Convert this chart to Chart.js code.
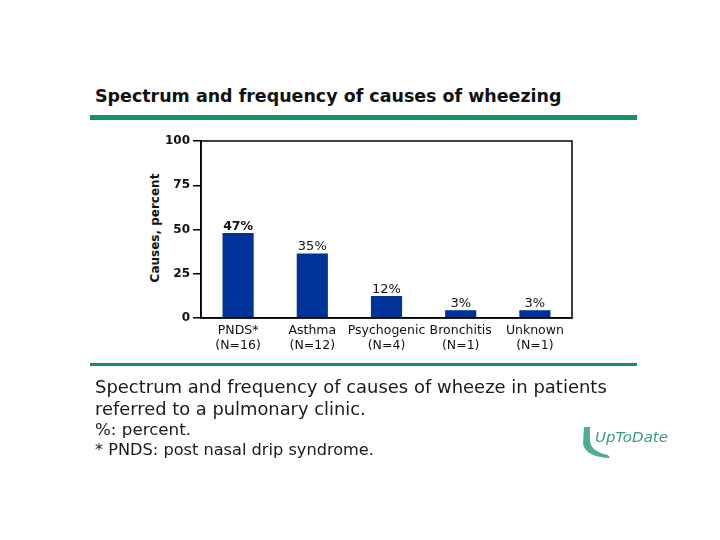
<!DOCTYPE html>
<html>
<head>
<meta charset="utf-8">
<script src="https://cdn.jsdelivr.net/npm/chart.js@4.4.1/dist/chart.umd.min.js"></script>
<style>
  html, body { margin:0; padding:0; background:#fff; }
  body { width:720px; height:540px; position:relative; overflow:hidden; font-family:"DejaVu Sans", Verdana, sans-serif; }
  .t { position:absolute; white-space:nowrap; line-height:1; color:#111; }
  .rule { position:absolute; background:#149069; }
  #wrap { position:absolute; left:140px; top:125px; width:450px; height:240px; }
</style>
</head>
<body>
<div class="t" id="title" data-w="467" style="left:95px; top:88px; font-weight:bold; font-size:16px;">Spectrum and frequency of causes of wheezing</div>
<div class="rule" style="left:90px; top:115px; width:547px; height:5px;"></div>
<div class="t" id="ytitle" style="left:155px; top:228px; font-weight:bold; font-size:12px; transform:translate(-50%,-50%) rotate(-90deg); transform-origin:center;">Causes, percent</div>
<div id="wrap"><canvas id="c" width="450" height="240"></canvas></div>
<div class="rule" style="left:90px; top:363px; width:547px; height:3px;"></div>
<div class="t" data-w="512" style="left:95px; top:378px; font-size:17px; color:#1a1a1a;">Spectrum and frequency of causes of wheeze in patients</div>
<div class="t" data-w="271" style="left:95px; top:400px; font-size:17px; color:#1a1a1a;">referred to a pulmonary clinic.</div>
<div class="t" data-w="96" style="left:95px; top:422px; font-size:14px; color:#1a1a1a;">%: percent.</div>
<div class="t" data-w="279" style="left:95px; top:442px; font-size:14px; color:#1a1a1a;">* PNDS: post nasal drip syndrome.</div>
<svg style="position:absolute; left:580px; top:422px;" width="95" height="38" viewBox="0 0 95 38">
  <path d="M4 5 L10 5 L10 20 Q12 30 28 33 L30 36 Q6 35 3 22 Z" fill="#4cb08a"/>
  <text x="15" y="20" font-family="DejaVu Sans" font-style="italic" font-size="14.5" fill="#3a9e78" textLength="73" lengthAdjust="spacingAndGlyphs">UpToDate</text>
</svg>
<script>
// ---- data ----
const categories = [["PNDS*","(N=16)"],["Asthma","(N=12)"],["Psychogenic","(N=4)"],["Bronchitis","(N=1)"],["Unknown","(N=1)"]];
const percentValues = [48, 36.5, 12.5, 4.4, 4.4];
const valueLabels = ["47%", "35%", "12%", "3%", "3%"];
const yTicks = [0, 25, 50, 75, 100];

// fit text widths
const mctx = document.createElement('canvas').getContext('2d');
document.querySelectorAll('[data-w]').forEach(el => {
  const cs = getComputedStyle(el);
  const fs = parseFloat(cs.fontSize);
  mctx.font = `${cs.fontStyle} ${cs.fontWeight} ${fs}px ${cs.fontFamily}`;
  const w = mctx.measureText(el.textContent).width;
  const target = parseFloat(el.dataset.w);
  el.style.fontSize = (fs * target / w).toFixed(2) + 'px';
});

const boxPlugin = {
  id: 'box',
  afterDraw(chart) {
    const {ctx, chartArea:a} = chart;
    ctx.save();
    ctx.strokeStyle = '#000';
    ctx.lineWidth = 1.5;
    ctx.strokeRect(a.left, a.top, a.right - a.left, a.bottom - a.top);
    // value labels
    const meta = chart.getDatasetMeta(0);
    ctx.fillStyle = '#111';
    ctx.textAlign = 'center';
    ctx.textBaseline = 'alphabetic';
    meta.data.forEach((bar, i) => {
      ctx.font = (i === 0 ? 'bold 12.5px' : '13px') + ' "DejaVu Sans"';
      ctx.fillText(valueLabels[i], bar.x, bar.y - 3);
    });
    ctx.restore();
  }
};

new Chart(document.getElementById('c'), {
  type: 'bar',
  data: {
    labels: categories,
    datasets: [{
      data: percentValues,
      backgroundColor: '#003399',
      barPercentage: 0.42,
      categoryPercentage: 1.0
    }]
  },
  options: {
    responsive: false,
    animation: false,
    layout: { padding: { left: 0, top: 16, right: 18, bottom: 0 } },
    plugins: { legend: { display: false }, tooltip: { enabled: false } },
    scales: {
      x: {
        afterFit(s) { s.height = 47; },
        grid: { display: false, drawTicks: false },
        border: { display: true, color: '#000', width: 1.5 },
        ticks: { color: '#111', font: { family: 'DejaVu Sans', size: 12.5, lineHeight: 1.2 }, padding: 5, autoSkip: false, maxRotation: 0, minRotation: 0 }
      },
      y: {
        min: 0, max: 100,
        afterFit(s) { s.width = 61; },
        afterBuildTicks(s) { s.ticks = yTicks.map(v => ({ value: v })); },
        grid: { drawOnChartArea: false, drawTicks: true, tickLength: 8, color: '#000', lineWidth: 1.5 },
        border: { display: true, color: '#000', width: 1.5 },
        ticks: { color: '#111', font: { family: 'DejaVu Sans', size: 12, weight: 'bold' }, padding: 3 }
      }
    }
  },
  plugins: [boxPlugin]
});
</script>
</body>
</html>
